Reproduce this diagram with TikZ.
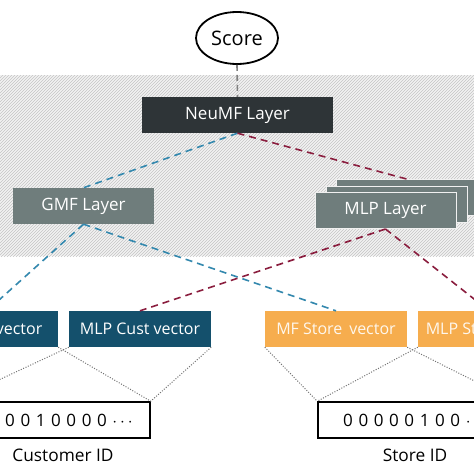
\documentclass[tikz,border=0pt]{standalone}
\usepackage{fontspec}
\setmainfont{Open Sans}
\usetikzlibrary{shapes.geometric,patterns}
\definecolor{darkbox}{HTML}{2E3437}
\definecolor{graybox}{HTML}{6F7D7C}
\definecolor{vecblue}{HTML}{14506C}
\definecolor{vecorange}{HTML}{F6AD4E}
\definecolor{bluedash}{HTML}{3388AE}
\definecolor{reddash}{HTML}{8A1D3E}
\definecolor{hatchbg}{HTML}{F2F2F2}
\definecolor{hatchln}{HTML}{C4C4C4}
\newcommand\dsp{\hspace{5.6pt}}
\tikzset{
  layerbox/.style={rectangle, inner sep=0pt, minimum width=141pt, minimum height=36pt, text=white, font=\fontsize{17}{18}\selectfont},
  mlpbox/.style={layerbox, fill=graybox, draw=white!88!gray, line width=1pt},
  vecbox/.style={rectangle, inner sep=0pt, minimum width=142pt, minimum height=36pt, font=\fontsize{16}{18}\selectfont},
  binbox/.style={rectangle, draw=black, line width=1.5pt, fill=white, minimum width=196pt, minimum height=36pt, inner sep=0pt},
  bintext/.style={font=\fontsize{17}{18}\selectfont, inner sep=0pt, anchor=west},
  idlabel/.style={font=\fontsize{17.3}{18}\selectfont, inner sep=0pt},
  bdash/.style={draw=bluedash, line width=1.6pt, dash pattern=on 7pt off 5pt},
  rdash/.style={draw=reddash, line width=1.6pt, dash pattern=on 7pt off 5pt},
  gdash/.style={draw=gray, line width=1.6pt, dash pattern=on 6pt off 4pt},
  dotline/.style={draw=gray!90!black, line width=1pt, dash pattern=on 1pt off 1.6pt},
}
\begin{document}
\begin{tikzpicture}[x=1pt,y=-1pt]
\useasboundingbox (0,0) rectangle (474,474);
\begin{scope}
\clip (0,0) rectangle (474,474);
\fill[white] (0,0) rectangle (474,474);
% hatched band
\fill[hatchbg] (-2,75) rectangle (476,256);
\fill[pattern=north east lines, pattern color=hatchln] (-2,75) rectangle (476,256);

% nodes
\node[ellipse, draw=black, line width=1.8pt, fill=white, minimum width=82pt, minimum height=52pt, inner sep=0pt, font=\fontsize{20}{22}\selectfont] (score) at (237,38) {Score};
\node[layerbox, fill=darkbox, minimum width=191pt] (neumf) at (237.5,115) {NeuMF Layer};
\node[layerbox, fill=graybox] (gmf) at (83.5,206) {GMF Layer};
\node[mlpbox] (mlpb) at (406.5,197.5) {};
\node[mlpbox] (mlpm) at (396.5,204) {};
\node[mlpbox] (mlpf) at (385.5,210.5) {MLP Layer};

\node[vecbox, fill=vecblue, text=white] (mfcust) at (-13,329) {MF Cust vector};
\node[vecbox, fill=vecblue, text=white] (mlpcust) at (140,329) {MLP Cust vector};
\node[vecbox, fill=vecorange, text=white!90!vecorange] (mfstore) at (336,329) {MF Store\, vector};
\node[vecbox, fill=vecorange, text=white!90!vecorange] (mlpstore) at (489,329) {MLP Store vector};

\node[binbox] (cbin) at (52,420) {};
\node[binbox] (sbin) at (416,420) {};
\node[bintext] (ctext) at (5,420) {0\dsp0\dsp1\dsp0\dsp0\dsp0\dsp0\dsp$\cdots$};
\node[bintext] (stext) at (343,420) {0\dsp0\dsp0\dsp0\dsp0\dsp1\dsp0\dsp0\dsp$\cdots$};
\node[idlabel] (cid) at (63,455) {Customer ID};
\node[idlabel] (sid) at (415,455) {Store ID};

% connectors
\draw[gdash] (score.south) -- (neumf.north);
\draw[bdash] (neumf.south) -- (gmf.north);
\draw[rdash] (neumf.south) -- (mlpb.north);
\draw[bdash] (gmf.south) -- (mfcust.north);
\draw[bdash] (gmf.south) -- (mfstore.north);
\draw[rdash] (mlpf.south) -- (mlpcust.north);
\draw[rdash] (mlpf.south) -- (mlpstore.north);

\draw[dotline] (mfcust.south west) -- (cbin.north west);
\draw[dotline] (mfcust.south east) -- (cbin.north east);
\draw[dotline] (mlpcust.south west) -- (cbin.north west);
\draw[dotline] (mlpcust.south east) -- (cbin.north east);
\draw[dotline] (mfstore.south west) -- (sbin.north west);
\draw[dotline] (mfstore.south east) -- (sbin.north east);
\draw[dotline] (mlpstore.south west) -- (sbin.north west);
\draw[dotline] (mlpstore.south east) -- (sbin.north east);
\end{scope}
\end{tikzpicture}
\end{document}
